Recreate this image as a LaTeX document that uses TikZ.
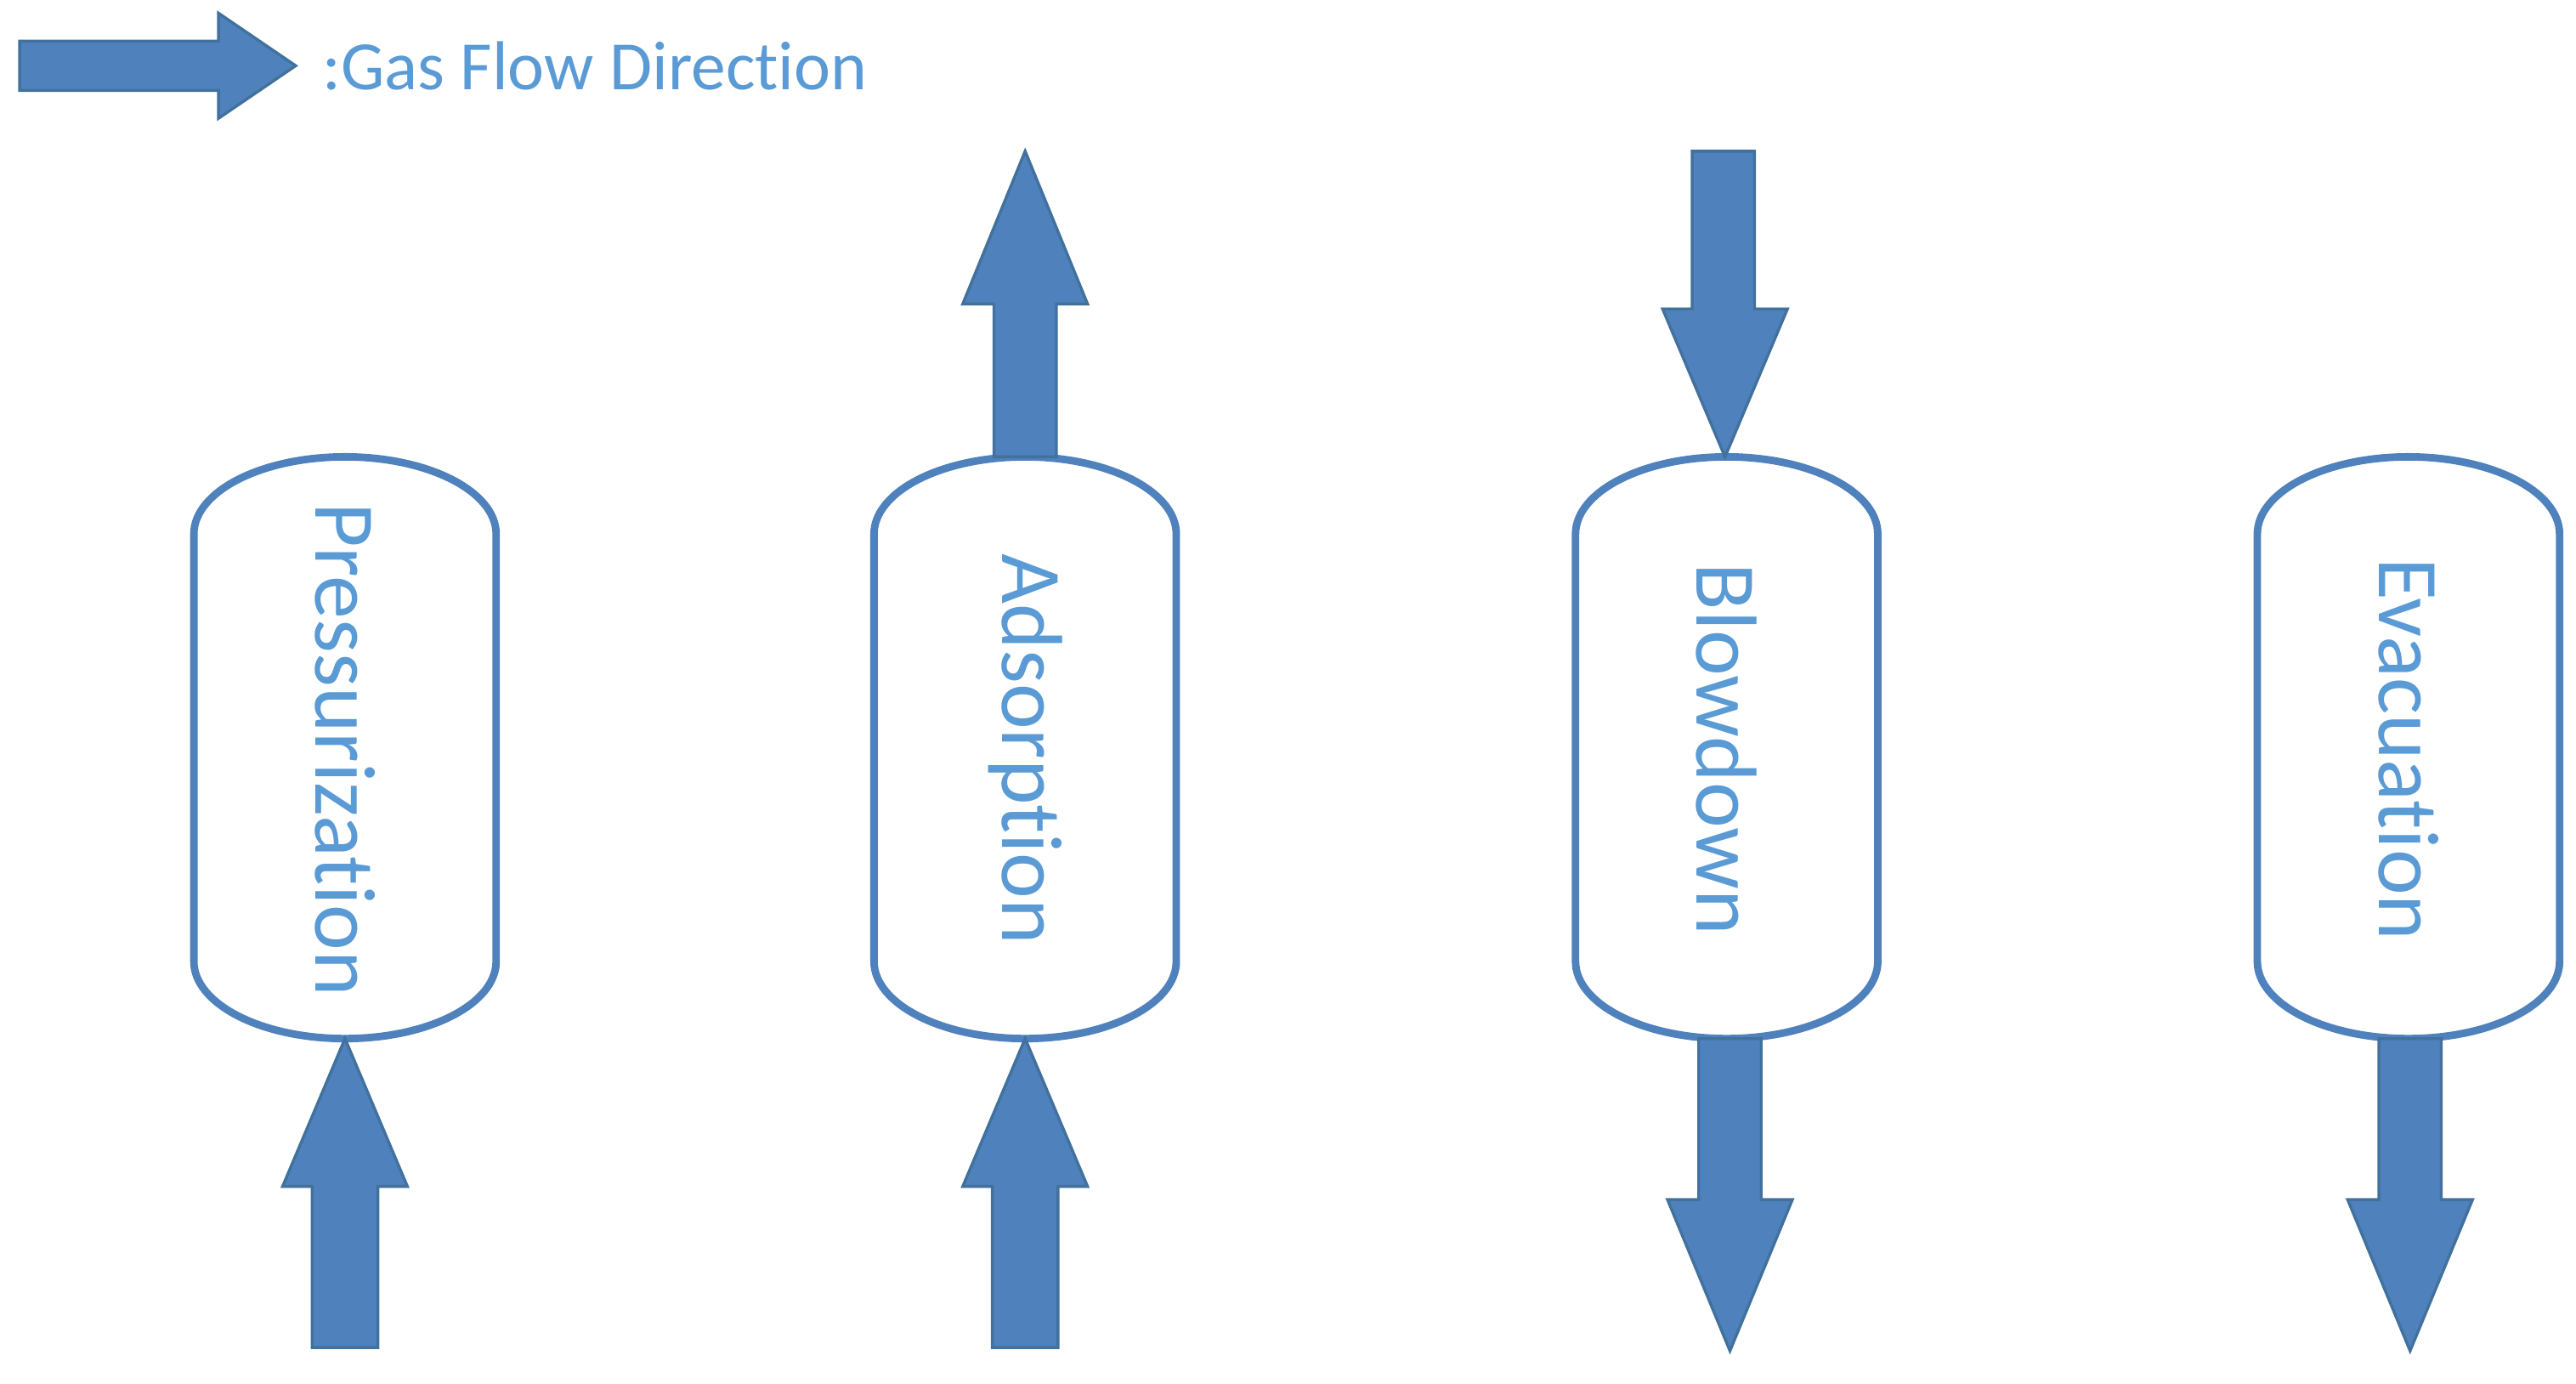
\documentclass[tikz,border=0pt]{standalone}
\usepackage{fontspec}
\setmainfont{Carlito}[Ligatures={NoCommon,NoDiscretionary}]
\definecolor{arrowblue}{HTML}{4F81BD}
\definecolor{arrowedge}{HTML}{41719C}
\definecolor{textblue}{HTML}{5B9BD5}
\begin{document}
\begin{tikzpicture}[x=0.02cm,y=-0.02cm,
  blockarrow/.style={fill=arrowblue,draw=arrowedge,line width=1pt,line join=miter},
  vessel/.style={draw=arrowblue,fill=white,line width=2.6pt},
  vlabel/.style={text=textblue,font=\fontsize{30}{36}\selectfont,rotate=-90}]
\useasboundingbox (0,0) rectangle (1568,842);
% legend
\path[blockarrow] (12,25) -- (133,25) -- (133,8) -- (180,40) -- (133,72) -- (133,55) -- (12,55) -- cycle;
\node[anchor=west,text=textblue,font=\fontsize{24}{29}\selectfont] (legend) at (190,40) {:Gas Flow Direction};
% vessels
\foreach \cx/\nm/\lab in {210/p/Pressurization,624/a/Adsorption,1051/b/Blowdown,1466/e/Evacuation}{
  \draw[vessel] (\cx-92,325) arc[start angle=180,end angle=360,x radius=92,y radius=47]
     -- (\cx+92,585) arc[start angle=0,end angle=180,x radius=92,y radius=47] -- cycle;
  \node[vlabel] (\nm) at (\cx,456) {\lab};
}
% up arrows from below
\foreach \cx in {210,624}{
  \path[blockarrow] (\cx-20,820) -- (\cx-20,722) -- (\cx-38,722) -- (\cx,632) -- (\cx+38,722) -- (\cx+20,722) -- (\cx+20,820) -- cycle;
}
% adsorption top up arrow
\path[blockarrow] (605,278) -- (605,185) -- (586,185) -- (624,92) -- (662,185) -- (643,185) -- (643,278) -- cycle;
% blowdown top down arrow
\path[blockarrow] (1030,92) -- (1068,92) -- (1068,188) -- (1088,188) -- (1050,278) -- (1012,188) -- (1030,188) -- cycle;
% bottom down arrows
\foreach \cx in {1053,1467}{
  \path[blockarrow] (\cx-19,632) -- (\cx+19,632) -- (\cx+19,730) -- (\cx+38,730) -- (\cx,822) -- (\cx-38,730) -- (\cx-19,730) -- cycle;
}
\end{tikzpicture}
\end{document}
